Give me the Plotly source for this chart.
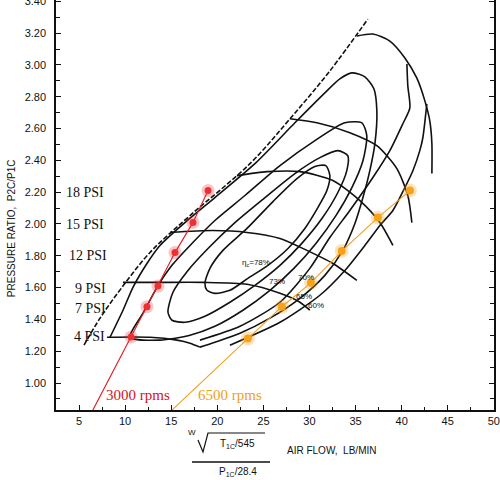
import plotly.graph_objects as go

# ---------------- data (flow lb/min, pressure ratio) ----------------
surge_x = [5.54, 7.28, 9.66, 12.70, 17.04, 23.54, 27.88, 32.21, 36.33]
surge_y = [1.238, 1.408, 1.602, 1.821, 2.053, 2.379, 2.661, 2.962, 3.288]

speed_lines = {
    "sl1": ([35.14, 36.88, 38.72, 40.35, 41.64, 42.52, 43.05, 43.28, 43.28],
            [3.182, 3.194, 3.150, 3.044, 2.918, 2.774, 2.649, 2.505, 2.317]),
    "sl2": ([27.88, 30.80, 34.38, 37.31, 39.48, 40.67, 41.11],
            [2.661, 2.636, 2.574, 2.492, 2.348, 2.179, 2.009]),
    "sl3": ([22.13, 25.39, 28.96, 32.54, 35.47, 37.64, 39.05],
            [2.304, 2.329, 2.329, 2.273, 2.147, 2.009, 1.865]),
    "sl4": ([14.87, 19.53, 23.22, 26.80, 29.72, 32.54, 35.14],
            [1.947, 1.959, 1.947, 1.909, 1.834, 1.752, 1.646]),
    "sl5": ([9.77, 13.78, 18.45, 23.22, 26.80, 28.96, 30.04],
            [1.633, 1.633, 1.633, 1.621, 1.564, 1.508, 1.458]),
    "sl6": ([8.04, 12.70, 15.63, 17.04, 18.12],
            [1.288, 1.288, 1.270, 1.251, 1.226]),
}

eff_78_x = [18.66, 19.20, 20.61, 23.22, 26.04, 28.64, 30.59, 31.78, 32.21, 31.89, 30.91, 29.50,
            27.67, 25.49, 23.32, 21.37, 19.74, 18.88, 18.66]
eff_78_y = [1.627, 1.721, 1.834, 1.972, 2.141, 2.285, 2.361, 2.367, 2.304, 2.210, 2.103, 1.972,
            1.846, 1.740, 1.658, 1.583, 1.564, 1.583, 1.627]

eff_73_x = [14.65, 15.19, 16.82, 18.99, 21.91, 25.17, 28.42, 31.13, 33.08, 34.16, 34.05, 33.08,
            31.35, 29.17, 26.80, 24.08, 21.37, 18.66, 16.49, 15.08, 14.65]
eff_73_y = [1.445, 1.571, 1.708, 1.846, 2.009, 2.166, 2.317, 2.417, 2.461, 2.429, 2.335, 2.198,
            2.034, 1.878, 1.740, 1.614, 1.508, 1.420, 1.382, 1.395, 1.445]

eff_70_x = [10.53, 11.94, 13.46, 15.08, 17.04, 19.74, 23.00, 26.80, 30.59, 33.84, 35.69, 36.22,
            35.80, 34.60, 32.87, 30.70, 28.31, 25.71, 22.78, 19.74, 17.04, 13.78, 10.53]
eff_70_y = [1.288, 1.439, 1.602, 1.740, 1.865, 2.022, 2.179, 2.367, 2.524, 2.636, 2.636, 2.555,
            2.398, 2.229, 2.053, 1.878, 1.721, 1.583, 1.458, 1.357, 1.301, 1.270, 1.288]

eff_60_x = [8.36, 9.77, 10.85, 12.37, 13.78, 16.49, 19.74, 24.08, 28.42, 31.67, 33.29, 34.60,
            36.01, 36.99, 37.31, 37.10, 36.55, 35.80, 34.93, 33.62, 31.67, 28.96, 25.71, 22.46,
            19.74, 18.12]
eff_60_y = [1.288, 1.458, 1.602, 1.752, 1.865, 2.009, 2.166, 2.379, 2.636, 2.824, 2.912, 2.950,
            2.925, 2.850, 2.712, 2.505, 2.335, 2.166, 2.003, 1.834, 1.677, 1.533, 1.408, 1.313,
            1.257, 1.226]

eff_65_x = [18.12, 22.46, 26.80, 30.04, 32.21, 34.38, 36.88, 38.72, 40.13, 40.89, 40.67, 40.57]
eff_65_y = [1.270, 1.357, 1.508, 1.721, 1.915, 2.085, 2.292, 2.461, 2.630, 2.730, 2.868, 3.006]

eff_55_x = [21.37, 26.80, 31.13, 33.84, 36.01, 37.64, 39.05, 40.35, 41.22, 41.97, 42.30, 42.73]
eff_55_y = [1.238, 1.382, 1.552, 1.708, 1.865, 1.991, 2.085, 2.229, 2.335, 2.461, 2.542, 2.755]

rpm3000_x = [10.64, 12.37, 13.56, 15.41, 17.36, 19.00]
rpm3000_y = [1.29, 1.48, 1.61, 1.82, 2.01, 2.21]
rpm3000_start = (6.50, 0.83)

rpm6500_x = [23.32, 27.00, 30.16, 33.50, 37.42, 40.90]
rpm6500_y = [1.28, 1.48, 1.63, 1.83, 2.04, 2.21]
rpm6500_start = (15.08, 0.83)

psi_labels = ["18 PSI", "15 PSI", "12 PSI", "9 PSI", "7 PSI", "4 PSI"]
psi_y = [2.198, 1.997, 1.80, 1.596, 1.47, 1.29]
psi_x = [3.40, 3.40, 3.65, 4.30, 4.35, 4.20]

eff_labels = ["η<sub>c</sub>=78%", "73%", "70%", "65%", "60%"]
eff_lab_x = [24.2, 26.47, 29.61, 29.4, 30.7]
eff_lab_y = [1.752, 1.64, 1.665, 1.545, 1.489]

RED = "#e31b23"
ORANGE = "#f2a01e"
BLACK = "#111111"

fig = go.Figure()

fig.add_trace(go.Scatter(x=surge_x, y=surge_y, mode="lines",
                         line=dict(color=BLACK, width=1.6, dash="5px,2px", shape="spline")))
for k, (xs, ys) in speed_lines.items():
    fig.add_trace(go.Scatter(x=xs, y=ys, mode="lines",
                             line=dict(color=BLACK, width=1.6, shape="spline", smoothing=0.7)))
for xs, ys in [(eff_78_x, eff_78_y), (eff_73_x, eff_73_y), (eff_70_x, eff_70_y),
               (eff_60_x, eff_60_y), (eff_65_x, eff_65_y), (eff_55_x, eff_55_y)]:
    fig.add_trace(go.Scatter(x=xs, y=ys, mode="lines",
                             line=dict(color=BLACK, width=1.6, shape="spline", smoothing=0.7)))

fig.add_trace(go.Scatter(x=[rpm3000_start[0]] + rpm3000_x, y=[rpm3000_start[1]] + rpm3000_y,
                         mode="lines", line=dict(color=RED, width=1.1)))
fig.add_trace(go.Scatter(x=[rpm6500_start[0]] + rpm6500_x, y=[rpm6500_start[1]] + rpm6500_y,
                         mode="lines", line=dict(color=ORANGE, width=1.1)))
fig.add_trace(go.Scatter(x=rpm3000_x, y=rpm3000_y, mode="markers",
                         marker=dict(color=RED, size=13, opacity=0.25, line=dict(width=0))))
fig.add_trace(go.Scatter(x=rpm3000_x, y=rpm3000_y, mode="markers",
                         marker=dict(color="#f03030", size=7, line=dict(width=0))))
fig.add_trace(go.Scatter(x=rpm6500_x, y=rpm6500_y, mode="markers",
                         marker=dict(color=ORANGE, size=14, opacity=0.3, line=dict(width=0))))
fig.add_trace(go.Scatter(x=rpm6500_x, y=rpm6500_y, mode="markers",
                         marker=dict(color="#f7a21b", size=8, line=dict(width=0))))

ann = []
for t, xv, yv in zip(psi_labels, psi_x, psi_y):
    ann.append(dict(x=xv, y=yv, xref="x", yref="y", text=t, showarrow=False, xanchor="left",
                    yanchor="middle", font=dict(family="Liberation Serif", size=14, color="#111")))
for t, xv, yv in zip(eff_labels, eff_lab_x, eff_lab_y):
    ann.append(dict(x=xv, y=yv, xref="x", yref="y", text=t, showarrow=False,
                    xanchor="center", yanchor="middle",
                    font=dict(family="Liberation Sans", size=8, color="#111")))
ann.append(dict(x=11.4, y=0.925, xref="x", yref="y", text="3000 rpms", showarrow=False,
                xanchor="center", yanchor="middle",
                font=dict(family="Liberation Serif", size=15, color="#d3141d")))
ann.append(dict(x=21.37, y=0.925, xref="x", yref="y", text="6500 rpms", showarrow=False,
                xanchor="center", yanchor="middle",
                font=dict(family="Liberation Serif", size=15, color="#f0a020")))

def pann(x, y, text, size, angle=0):
    return dict(x=x, y=y, xref="paper", yref="paper", text=text, showarrow=False,
                xanchor="center", yanchor="middle", textangle=angle,
                font=dict(family="Liberation Sans", size=size, color="#111"))

ann.append(pann(-0.1, 0.444, "PRESSURE RATIO,  P2C/P1C", 10, -90))
ann.append(pann(0.3105, -0.0537, "W", 8))
ann.append(pann(0.4155, -0.0829, "T<sub>1C</sub>/545", 10))
ann.append(pann(0.4155, -0.1512, "P<sub>1C</sub>/28.4", 10))
ann.append(pann(0.63, -0.0976, "AIR FLOW,  LB/MIN", 10))

shapes = [
    dict(type="path", xref="paper", yref="paper",
         path="M 0.3242 -0.0732 L 0.3356 -0.1024 L 0.3470 -0.0561 L 0.4772 -0.0561",
         line=dict(color="#111", width=1.2)),
    dict(type="line", xref="paper", yref="paper", x0=0.3105, x1=0.4886, y0=-0.1268, y1=-0.1268,
         line=dict(color="#111", width=1.5)),
]

fig.update_layout(
    width=500, height=480,
    margin=dict(l=56, r=6, t=0, b=70, autoexpand=False),
    plot_bgcolor="white", paper_bgcolor="white",
    showlegend=False,
    annotations=ann, shapes=shapes,
    xaxis=dict(range=[2.5, 50.02], tick0=0, dtick=5, ticks="inside", ticklen=5, tickwidth=1.3,
               tickcolor="#111", showline=True, linecolor="#111", linewidth=1.5,
               showgrid=False, zeroline=False, ticklabeloverflow="allow", automargin=False,
               tickfont=dict(family="Liberation Sans", size=11, color="#111"),
               minor=dict(dtick=2.5, tick0=0, ticks="inside", ticklen=3, tickcolor="#111",
                          showgrid=False)),
    yaxis=dict(range=[0.8307, 3.408], tick0=0, dtick=0.2, tickformat=".2f", ticks="inside",
               ticklen=5, tickwidth=1.3, tickcolor="#111", showline=True, linecolor="#111",
               linewidth=1.5, mirror="ticks", showgrid=False, zeroline=False,
               ticklabelstandoff=6, ticklabeloverflow="allow", automargin=False,
               tickfont=dict(family="Liberation Sans", size=11, color="#111"),
               minor=dict(dtick=0.1, tick0=0, ticks="inside", ticklen=4, tickcolor="#111",
                          showgrid=False)),
)

fig.write_html("out.html")
